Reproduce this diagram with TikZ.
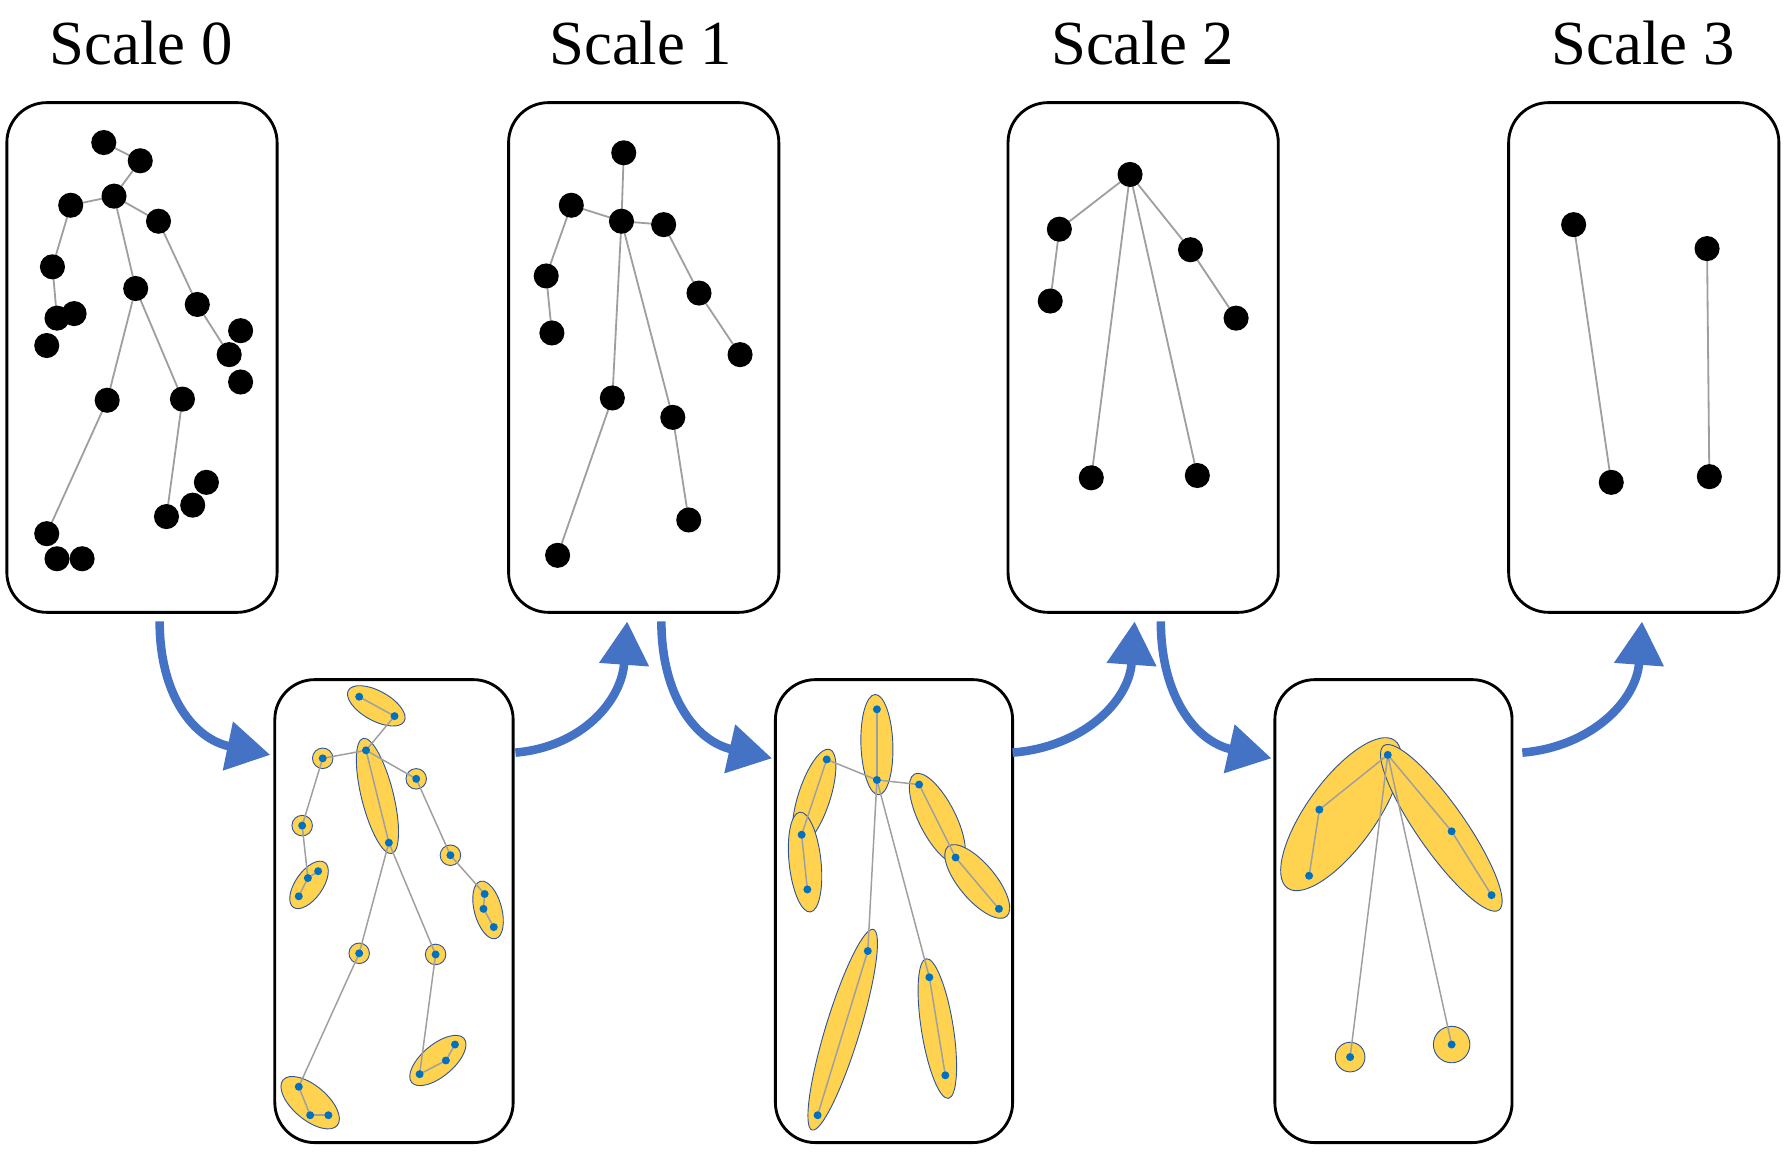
\documentclass[tikz,border=0pt]{standalone}
\usepackage{fontspec}
\setmainfont{Liberation Serif}
\usetikzlibrary{arrows.meta}
\definecolor{ablue}{HTML}{4472C4}
\definecolor{jblue}{HTML}{0070C0}
\definecolor{yel}{HTML}{FFD34F}
\definecolor{eout}{HTML}{2F5597}
\begin{document}
\begin{tikzpicture}[x=1pt,y=-1pt,
  box/.style={draw,line width=2.5pt,rounded corners=35pt},
  bone/.style={draw=gray!75,line width=1.6pt},
  dot/.style={fill=black},
  bdot/.style={fill=jblue},
  ell/.style={fill=yel,draw=eout,line width=0.8pt},
  barrow/.style={draw=ablue,line width=7.5pt,-{Triangle[length=38pt,width=42pt]}},
  title/.style={font=\fontsize{55}{60}\selectfont}]
\useasboundingbox (0,0) rectangle (1568,1014);
% titles
\node[title] (t0) at (124,38) {Scale 0};
\node[title] (t1) at (562,38) {Scale 1};
\node[title] (t2) at (1002,38) {Scale 2};
\node[title] (t3) at (1441,38) {Scale 3};
% boxes
\draw[box] (6,90) rectangle (243,537);
\draw[box] (446,90) rectangle (683,537);
\draw[box] (884,90) rectangle (1121,537);
\draw[box] (1323,90) rectangle (1560,537);
\draw[box] (241,596) rectangle (450,1002);
\draw[box] (680,596) rectangle (888,1002);
\draw[box] (1118,596) rectangle (1326,1002);
% arrows
\coordinate (d0s) at (140,545); \coordinate (d0e) at (237,662);
\coordinate (u0s) at (452,660); \coordinate (u0e) at (550,545);
\coordinate (d1s) at (580,545); \coordinate (d1e) at (677,665);
\coordinate (u1s) at (888,660); \coordinate (u1e) at (995,545);
\coordinate (d2s) at (1018,545); \coordinate (d2e) at (1115,665);
\coordinate (u2s) at (1335,660); \coordinate (u2e) at (1440,545);
\draw[barrow] (d0s) .. controls (140,610) and (170,648) .. (d0e);
\draw[barrow] (u0s) .. controls (510,655) and (545,615) .. (u0e);
\draw[barrow] (d1s) .. controls (580,610) and (610,650) .. (d1e);
\draw[barrow] (u1s) .. controls (950,655) and (990,615) .. (u1e);
\draw[barrow] (d2s) .. controls (1018,610) and (1048,650) .. (d2e);
\draw[barrow] (u2s) .. controls (1395,655) and (1435,615) .. (u2e);
% ---------- Scale 0
\foreach \n/\x/\y in {h1/91/125,h2/123/141,nk/100/172,l1/62/180,l2/46/234,l3/50/279,l4/65/275,l5/41/303,
  r1/139/194,r2/173/267,r3/211/290,r4/201/311,r5/211/335,sp/119/253,hl/94/351,hr/160/350,
  f1/41/468,f2/50/490,f3/72/490,g1/146/453,g2/169/443,g3/181/423}
  \coordinate (a\n) at (\x,\y);
\foreach \a/\b in {h1/h2,h2/nk,nk/l1,l1/l2,l2/l3,nk/r1,r1/r2,r2/r4,nk/sp,sp/hl,sp/hr,hl/f1,hr/g1}
  \draw[bone] (a\a) -- (a\b);
\foreach \n in {h1,h2,nk,l1,l2,l3,l4,l5,r1,r2,r3,r4,r5,sp,hl,hr,f1,f2,f3,g1,g2,g3}
  \fill[dot] (a\n) circle (11);
% ---------- Scale 1
\foreach \n/\x/\y in {h/547/134,n/545/194,l1/501/180,l2/479/242,l3/484/292,r1/582/197,r2/613/257,r3/649/311,
  k1/537/349,k2/489/487,m1/590/366,m2/604/456}
  \coordinate (b\n) at (\x,\y);
\foreach \a/\b in {h/n,n/l1,l1/l2,l2/l3,n/r1,r1/r2,r2/r3,n/k1,k1/k2,n/m1,m1/m2}
  \draw[bone] (b\a) -- (b\b);
\foreach \n in {h,n,l1,l2,l3,r1,r2,r3,k1,k2,m1,m2}
  \fill[dot] (b\n) circle (11);
% ---------- Scale 2
\foreach \n/\x/\y in {n/991/153,l1/929/201,l2/921/264,r1/1044/219,r2/1084/279,k/957/419,m/1050/417}
  \coordinate (c\n) at (\x,\y);
\foreach \a/\b in {n/l1,l1/l2,n/r1,r1/r2,n/k,n/m}
  \draw[bone] (c\a) -- (c\b);
\foreach \n in {n,l1,l2,r1,r2,k,m}
  \fill[dot] (c\n) circle (11);
% ---------- Scale 3
\coordinate (e1) at (1380,197); \coordinate (e2) at (1413,423);
\coordinate (e3) at (1497,218); \coordinate (e4) at (1499,418);
\draw[bone] (e1) -- (e2); \draw[bone] (e3) -- (e4);
\foreach \n in {e1,e2,e3,e4} \fill[dot] (\n) circle (11);
% ---------- Bottom 0
\foreach \n/\x/\y in {h1/315/611,h2/346/628,nk/321/658,l1/283/665,l2/265/724,l3/270/770,l4/279/764,l5/262/786,
  r1/365/683,r2/395/750,r3/425/784,r4/424/797,r5/433/813,sp/341/739,hl/315/836,hr/382/837,
  f1/262/953,f2/272/978,f3/288/978,g1/368/942,g2/391/930,g3/399/916}
  \coordinate (p\n) at (\x,\y);
\draw[ell,rotate around={-29:(330,619)}] (330,619) ellipse [x radius=28,y radius=13];
\draw[ell,rotate around={-76:(331,698)}] (331,698) ellipse [x radius=52,y radius=14];
\foreach \n in {l1,r1,l2,r2,hl,hr} \draw[ell] (p\n) circle (9);
\draw[ell,rotate around={55:(271,776)}] (271,776) ellipse [x radius=24,y radius=12];
\draw[ell,rotate around={-75:(428,798)}] (428,798) ellipse [x radius=26,y radius=12];
\draw[ell,rotate around={-40:(272,967)}] (272,967) ellipse [x radius=31,y radius=15];
\draw[ell,rotate around={40:(384,930)}] (384,930) ellipse [x radius=30,y radius=14];
\foreach \a/\b in {h1/h2,h2/nk,nk/l1,l1/l2,l2/l3,l3/l4,l3/l5,nk/r1,r1/r2,r2/r3,r3/r4,r4/r5,nk/sp,sp/hl,sp/hr,hl/f1,f1/f2,f2/f3,hr/g1,g1/g2,g2/g3}
  \draw[bone,line width=1.3pt] (p\a) -- (p\b);
\foreach \n in {h1,h2,nk,l1,l2,l3,l4,l5,r1,r2,r3,r4,r5,sp,hl,hr,f1,f2,f3,g1,g2,g3}
  \fill[bdot] (p\n) circle (3.5);
% ---------- Bottom 1
\foreach \n/\x/\y in {h/769/622,n/769/684,l1/725/666,l2/703/732,l3/708/780,r1/806/688,r2/838/752,r3/876/797,
  k1/761/834,k2/717/978,m1/815/857,m2/829/943}
  \coordinate (q\n) at (\x,\y);
\draw[ell,rotate around={-88:(769,653)}] (769,653) ellipse [x radius=44,y radius=14];
\draw[ell,rotate around={72:(714,699)}] (714,699) ellipse [x radius=44,y radius=14];
\draw[ell,rotate around={-84:(706,756)}] (706,756) ellipse [x radius=44,y radius=14];
\draw[ell,rotate around={-63:(822,718)}] (822,718) ellipse [x radius=44,y radius=16];
\draw[ell,rotate around={-50:(857,773)}] (857,773) ellipse [x radius=40,y radius=16];
\draw[ell,rotate around={73:(739,903)}] (739,903) ellipse [x radius=92,y radius=15];
\draw[ell,rotate around={-81:(822,902)}] (822,902) ellipse [x radius=62,y radius=14];
\foreach \a/\b in {h/n,n/l1,l1/l2,l2/l3,n/r1,r1/r2,r2/r3,n/k1,k1/k2,n/m1,m1/m2}
  \draw[bone,line width=1.3pt] (q\a) -- (q\b);
\foreach \n in {h,n,l1,l2,l3,r1,r2,r3,k1,k2,m1,m2}
  \fill[bdot] (q\n) circle (3.5);
% ---------- Bottom 2
\foreach \n/\x/\y in {n/1217/662,l1/1157/710,l2/1148/768,r1/1273/729,r2/1308/785,k/1184/927,m/1273/916}
  \coordinate (s\n) at (\x,\y);
\draw[ell,rotate around={54:(1176,714)}] (1176,714) ellipse [x radius=80,y radius=30];
\draw[ell,rotate around={-55:(1264,726)}] (1264,726) ellipse [x radius=88,y radius=21];
\draw[ell] (sk) circle (13);
\draw[ell] (sm) circle (16);
\foreach \a/\b in {n/l1,l1/l2,n/r1,r1/r2,n/k,n/m}
  \draw[bone,line width=1.3pt] (s\a) -- (s\b);
\foreach \n in {n,l1,l2,r1,r2,k,m}
  \fill[bdot] (s\n) circle (3.5);
\end{tikzpicture}
\end{document}
